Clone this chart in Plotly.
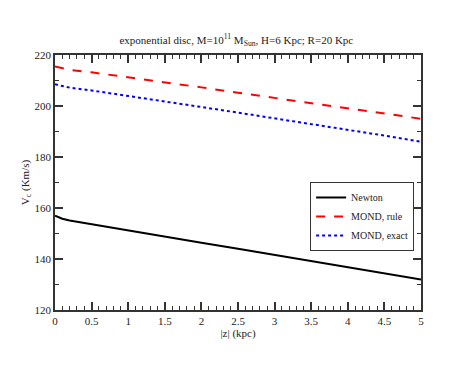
import plotly.graph_objects as go

z = [0, 0.1, 0.2, 0.5, 1.0, 1.5, 2.0, 2.5, 3.0, 3.5, 4.0, 4.5, 5.0]
v_newton = [157.0, 155.8, 155.1, 153.6, 151.2, 148.8, 146.4, 144.0, 141.6, 139.2, 136.8, 134.4, 132.0]
v_mond_rule = [215.5, 214.8, 214.2, 213.2, 211.3, 209.3, 207.3, 205.2, 203.2, 201.2, 199.1, 197.0, 195.0]
v_mond_exact = [208.5, 207.8, 207.2, 206.1, 204.0, 201.8, 199.6, 197.4, 195.2, 193.0, 190.7, 188.4, 186.0]

font = "Liberation Serif"
fig = go.Figure()
fig.add_trace(go.Scatter(x=z, y=v_newton, mode="lines", name="Newton",
                         line=dict(color="black", width=2)))
fig.add_trace(go.Scatter(x=z, y=v_mond_rule, mode="lines", name="MOND, rule",
                         line=dict(color="#ff0000", width=2, dash="dash")))
fig.add_trace(go.Scatter(x=z, y=v_mond_exact, mode="lines", name="MOND, exact",
                         line=dict(color="#0000ff", width=2, dash="dot")))

axis_common = dict(showgrid=False, zeroline=False, showline=True, linecolor="#333",
                   linewidth=1.5, mirror="allticks", ticks="inside", tickcolor="#333",
                   ticklen=8, tickwidth=1.5, layer="above traces",
                   tickfont=dict(family=font, size=11, color="#222"))
# page body keeps a default 8px margin, so the figure is sized to fit the window
fig.update_layout(
    width=466, height=358,
    margin=dict(l=47, r=53, t=47, b=56),
    paper_bgcolor="white", plot_bgcolor="white",
    font=dict(family=font, size=11, color="#222"),
    title=dict(text="exponential disc, M=10<sup>11</sup> M<sub>Sun</sub>, H=6 Kpc; R=20 Kpc",
               x=0.49, xanchor="center", y=0.91, yanchor="middle",
               font=dict(family=font, size=11, color="#222")),
    xaxis=dict(range=[0, 5], dtick=0.5, tick0=0,
               title=dict(text="|z| (kpc)", font=dict(family=font, size=11), standoff=0),
               minor=dict(dtick=0.1, ticks="inside", ticklen=4, tickwidth=1.2, tickcolor="#333"),
               **axis_common),
    yaxis=dict(range=[120, 220], dtick=20, tick0=120,
               title=dict(text="V<sub>c</sub> (Km/s)", font=dict(family=font, size=11), standoff=3),
               minor=dict(dtick=10, ticks="inside", ticklen=4, tickwidth=1.2, tickcolor="#333"),
               **axis_common),
    legend=dict(x=0.697, y=0.502, xanchor="left", yanchor="top",
                bordercolor="#333", borderwidth=1, bgcolor="white",
                font=dict(family=font, size=10, color="#222"),
                tracegroupgap=0, itemwidth=30),
    showlegend=True,
)
fig.write_html("out.html")
